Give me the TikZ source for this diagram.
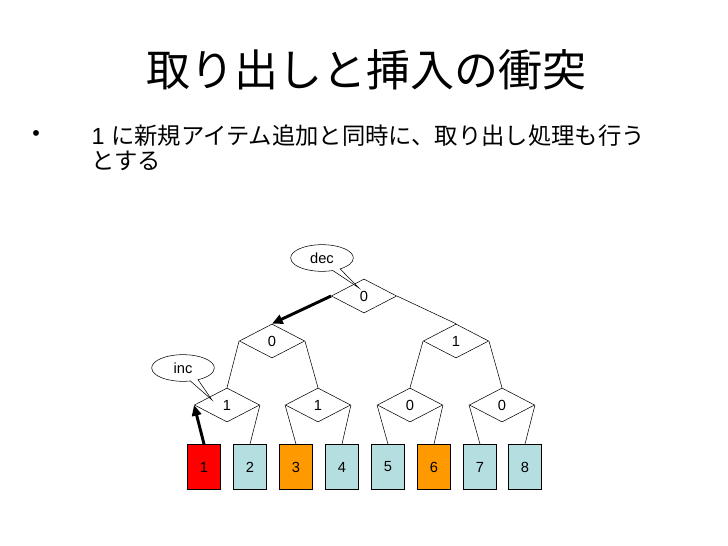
\documentclass[tikz,border=0pt]{standalone}
\usepackage{fontspec}
\setmainfont{Liberation Sans}
\newfontfamily\cjk{Noto Sans CJK JP}
\usetikzlibrary{shapes.geometric,shapes.callouts,arrows.meta}
\definecolor{leafblue}{HTML}{B4DEE0}
\definecolor{leaforange}{HTML}{FF9900}
\definecolor{leafred}{HTML}{FF0000}
\begin{document}
\begin{tikzpicture}[x=0.75pt,y=-0.75pt,
  dnode/.style={draw,diamond,inner sep=0pt,minimum width=49pt,minimum height=25.5pt,font=\fontsize{11}{11}\selectfont},
  leaf/.style={draw,rectangle,inner sep=0pt,minimum width=25pt,minimum height=34pt,font=\fontsize{11}{11}\selectfont},
  edge/.style={thin},
  bold/.style={line width=2.2pt,-{Triangle[length=8pt,width=7pt]}},
  call/.style={draw,ellipse callout,fill=white,inner sep=0pt,minimum width=47pt,minimum height=20pt,font=\fontsize{11}{11}\selectfont}]
\useasboundingbox (0,0) rectangle (728,546);
\node (title) at (366,70) {\cjk\fontsize{33}{33}\selectfont 取り出しと挿入の衝突};
\node (bullet) at (36,136) {\fontsize{16}{16}\selectfont •};
\node[anchor=west,align=left,font=\fontsize{17.5}{19}\selectfont] (text) at (87,148) {1 {\cjk に新規アイテム追加と同時に、取り出し処理も行う}\\{\cjk とする}};
\node[dnode] (r) at (364,296) {0};
\node[dnode] (a) at (272,341) {0};
\node[dnode] (b) at (456,341) {1};
\node[dnode] (c1) at (227,405) {1};
\node[dnode] (c2) at (318,405) {1};
\node[dnode] (c3) at (410,405) {0};
\node[dnode] (c4) at (502,405) {0};
\foreach \i/\x/\c in {1/204/leafred,2/250/leafblue,3/296/leaforange,4/342/leafblue,5/388/leafblue,6/434/leaforange,7/480/leafblue,8/525/leafblue}
  \node[leaf,fill=\c] (l\i) at (\x,467) {\i};
\draw[bold] (r.west) -- (a.north);
\draw[edge] (r.east) -- (b.north);
\draw[edge] (a.west) -- (c1.north);
\draw[edge] (a.east) -- (c2.north);
\draw[edge] (b.west) -- (c3.north);
\draw[edge] (b.east) -- (c4.north);
\draw[bold] (l1.north) -- (c1.west);
\draw[edge] (c1.east) -- (l2.north);
\draw[edge] (c2.west) -- (l3.north);
\draw[edge] (c2.east) -- (l4.north);
\draw[edge] (c3.west) -- (l5.north);
\draw[edge] (c3.east) -- (l6.north);
\draw[edge] (c4.west) -- (l7.north);
\draw[edge] (c4.east) -- (l8.north);
\coordinate (dtip) at (359,288);
\coordinate (itip) at (212,400);
\node[call,callout absolute pointer={(dtip)}] (dec) at (322,258) {dec};
\node[call,callout absolute pointer={(itip)}] (inc) at (183,368) {inc};
\end{tikzpicture}
\end{document}
